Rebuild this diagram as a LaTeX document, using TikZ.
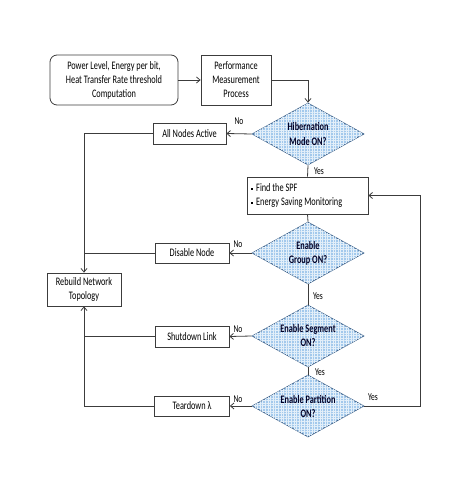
\documentclass[tikz,border=0pt]{standalone}
\usepackage{fontspec}
\setmainfont{Carlito}[FakeStretch=0.72]
\usetikzlibrary{arrows.meta,shapes.geometric,patterns.meta}
\definecolor{dfill}{RGB}{163,201,236}
\definecolor{dline}{RGB}{65,100,140}
\definecolor{lgray}{RGB}{60,60,60}
\newcommand{\sqb}{\raisebox{1.8pt}{\rule{2pt}{2pt}}\hspace{3pt}}
\begin{document}
\begin{tikzpicture}[x=1pt,y=-1pt,
  every node/.style={font=\fontsize{11.5}{14}\selectfont, inner sep=0pt, align=center},
  box/.style={draw=lgray, line width=0.8pt, rectangle, fill=white},
  dec/.style={draw=dline, line width=0.8pt, diamond, fill=dfill, shape aspect=1.8,
     minimum width=112pt, minimum height=62pt,
     postaction={pattern={Hatch[angle=0,distance=2.6pt,line width=0.5pt]}, pattern color=white!70!dfill},
     font=\fontsize{11.5}{14}\selectfont\bfseries, text=black!85!blue},
  conn/.style={draw=lgray, line width=0.8pt},
  arr/.style={conn, -{Straight Barb[length=3.5pt,width=6pt]}},
  lab/.style={font=\fontsize{10.5}{11}\selectfont}
]
\useasboundingbox (0,0) rectangle (474,494);
\node[box, rounded corners=7pt, minimum width=128pt, minimum height=50pt] (pw) at (114,80)
  {Power Level, Energy per bit,\\Heat Transfer Rate threshold\\Computation};
\node[box, minimum width=70pt, minimum height=50pt] (pm) at (236,80)
  {Performance\\Measurement\\Process};
\node[dec] (hib) at (308,134) {Hibernation\\Mode ON?};
\node[box, minimum width=73pt, minimum height=21pt] (ana) at (189.5,133.5) {All Nodes Active};
\node[box, minimum width=121pt, minimum height=37pt] (spf) at (307.5,195.5) {};
\node[anchor=west, align=left] (spft) at (251,195.5) {\sqb Find the SPF\\\sqb Energy Saving Monitoring};
\node[dec] (grp) at (308,253) {Enable\\Group ON?};
\node[box, minimum width=74pt, minimum height=20pt] (dis) at (192,253) {Disable Node};
\node[box, minimum width=74pt, minimum height=33pt] (reb) at (84,289.5) {Rebuild Network\\Topology};
\node[dec] (seg) at (308,336) {Enable Segment\\ON?};
\node[box, minimum width=74pt, minimum height=21pt] (shd) at (192,336.5) {Shutdown Link};
\node[dec] (par) at (308,406) {Enable Partition\\ON?};
\node[box, minimum width=75pt, minimum height=20pt] (tdn) at (192,406) {Teardown λ};
\coordinate (rc) at (420,406);

\draw[arr] (pw.east) -- (pm.west);
\draw[arr] (pm.east) -| (hib.north);
\draw[arr] (hib.west) -- (ana.east);
\draw[arr] (ana.west) -| (reb.north);
\draw[conn] (hib.south) -- (spf.north);
\draw[conn] (spf.south) -- (grp.north);
\draw[arr] (grp.west) -- (dis.east);
\draw[conn] (dis.west) -- (dis.west -| reb.north);
\draw[conn] (grp.south) -- (seg.north);
\draw[arr] (seg.west) -- (shd.east);
\draw[conn] (shd.west) -- (shd.west -| reb.south);
\draw[conn] (seg.south) -- (par.north);
\draw[arr] (par.west) -- (tdn.east);
\draw[arr] (tdn.west) -| (reb.south);
\draw[arr] (par.east) -- (rc) |- (spf.east);

\node[lab] (n1) at (239,121) {No};
\node[lab] (n2) at (238,244) {No};
\node[lab] (n3) at (238,329) {No};
\node[lab] (n4) at (238,399) {No};
\node[lab] (y1) at (319,171) {Yes};
\node[lab] (y2) at (318,296) {Yes};
\node[lab] (y3) at (320,372) {Yes};
\node[lab] (y4) at (373,397) {Yes};
\end{tikzpicture}
\end{document}
